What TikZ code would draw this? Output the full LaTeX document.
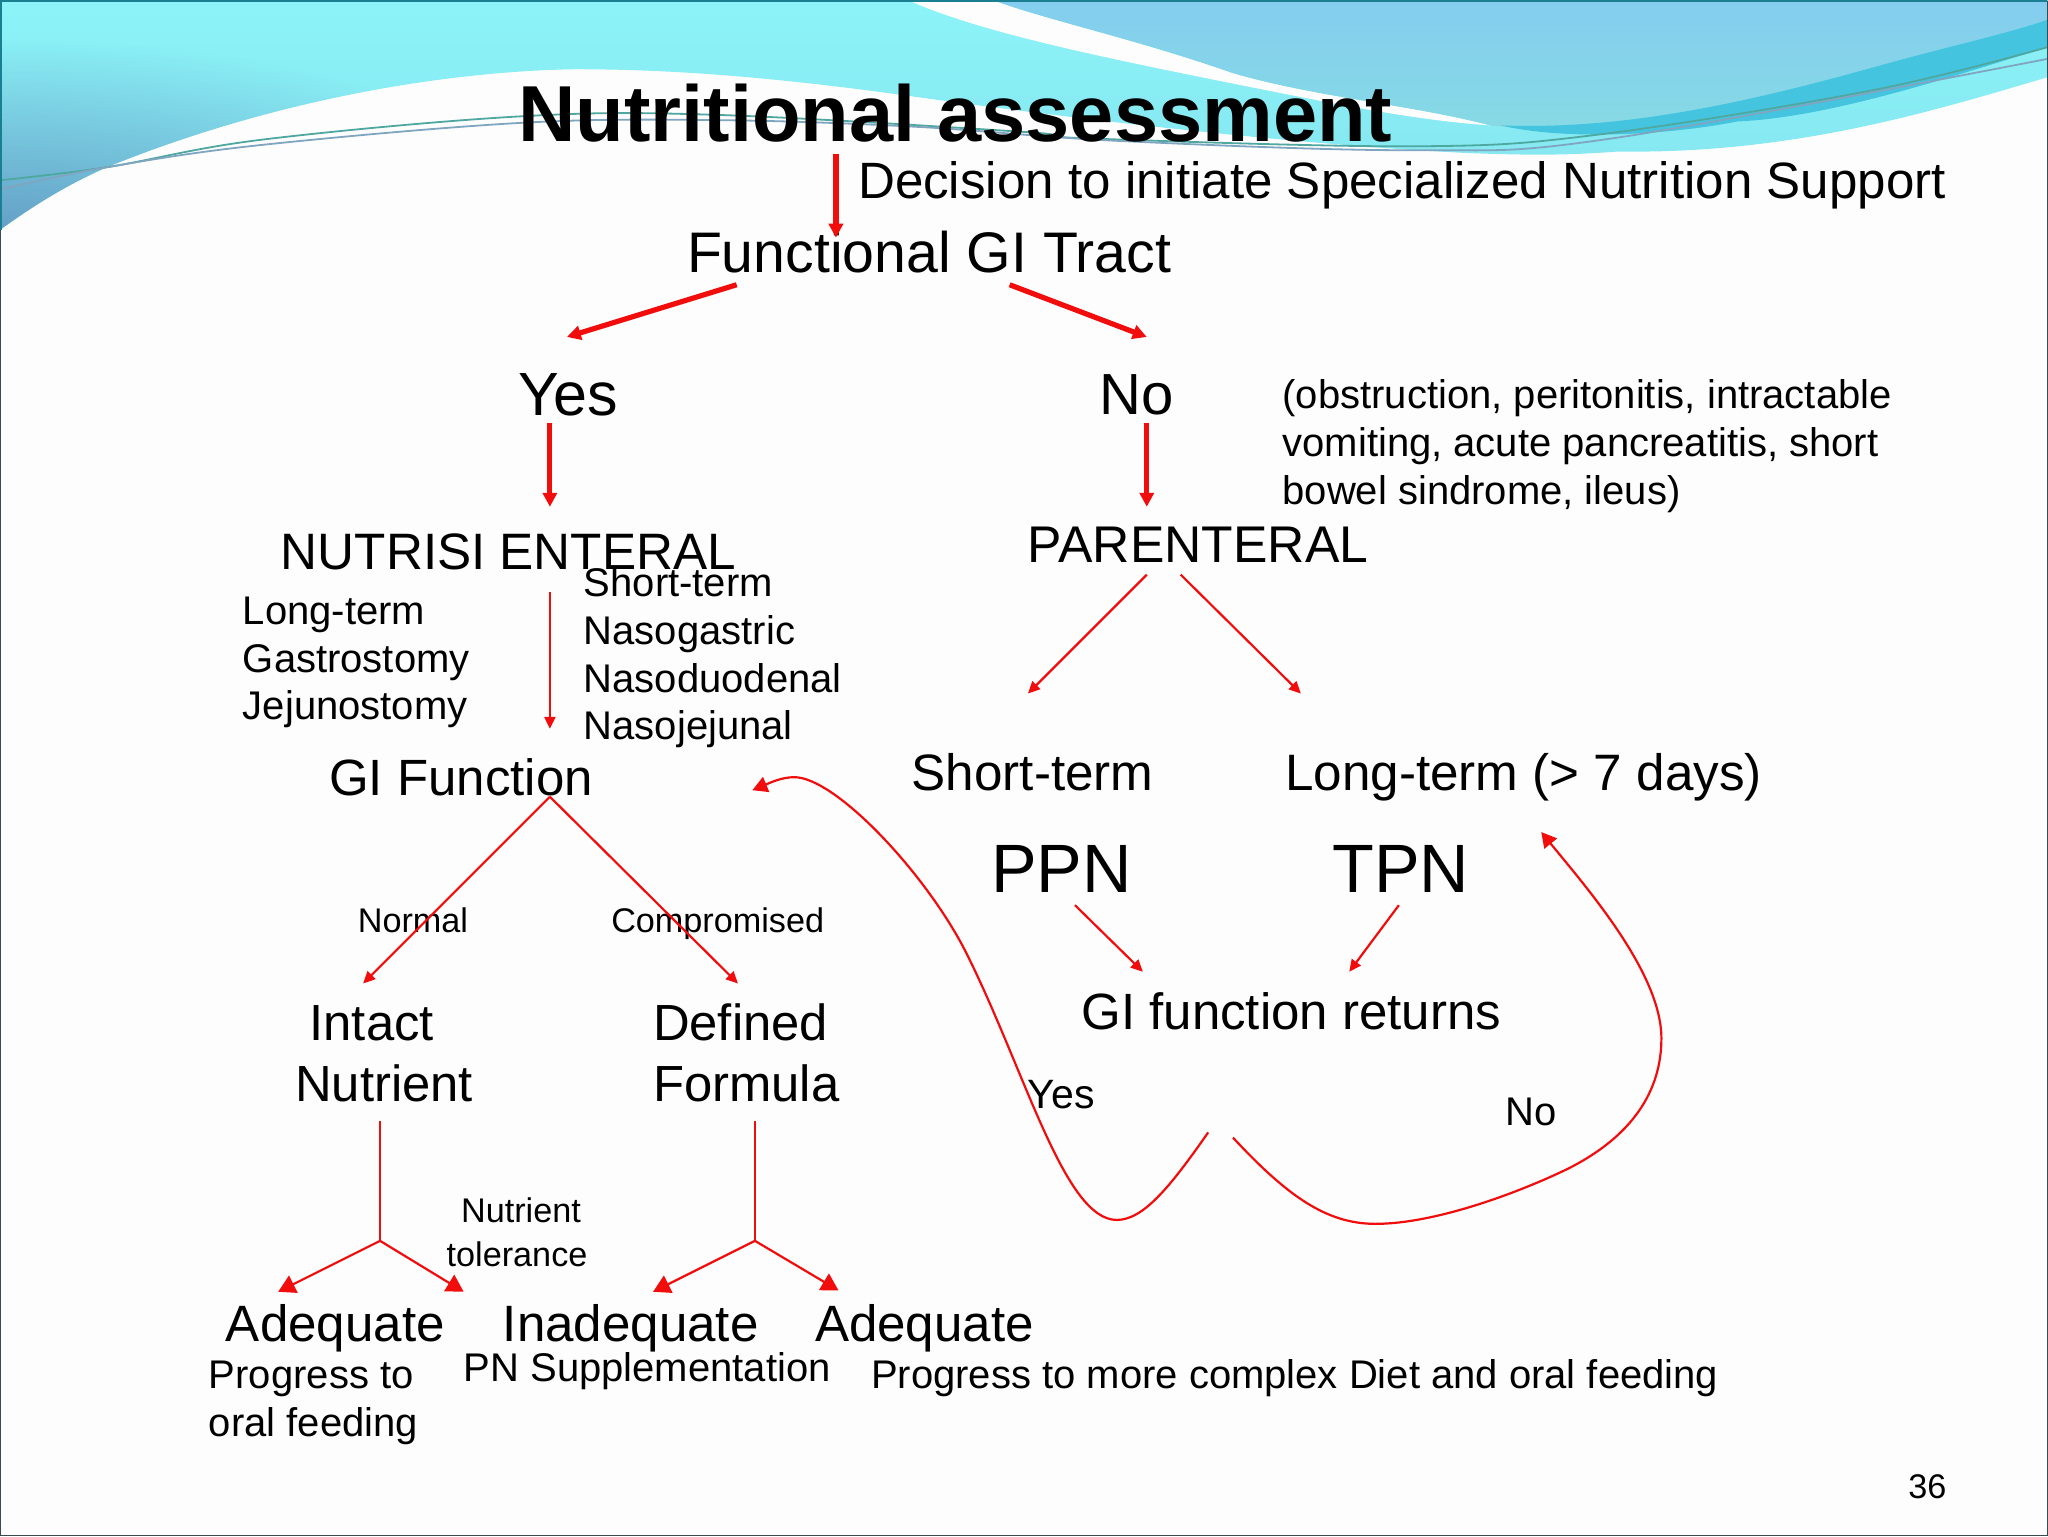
\documentclass[tikz,border=0pt]{standalone}
\usepackage{fontspec}
\setmainfont{Liberation Sans}
\usetikzlibrary{arrows.meta,fadings}
\definecolor{arrowred}{HTML}{F20D0D}
\definecolor{paper}{HTML}{FEFDFE}
\definecolor{cyanTop}{HTML}{8CF4F8}
\definecolor{cyanBot}{HTML}{84E2EE}
\definecolor{leftDark}{HTML}{5F95C0}
\definecolor{blueTop}{HTML}{84CDEF}
\definecolor{blueBot}{HTML}{86DAE4}
\definecolor{ribbon}{HTML}{45C4E0}
\definecolor{frameC}{HTML}{1B7F92}
\definecolor{frameD}{HTML}{3A4A50}
\definecolor{swA}{HTML}{4FA8A0}
\definecolor{swB}{HTML}{7FA6C0}
\tikzfading[name=cornerfade,inner color=transparent!15,outer color=transparent!100]
\tikzset{
  x=0.65306pt,y=-0.65306pt,
  lab/.style={anchor=base west,inner sep=0pt,outer sep=0pt,text=black},
  heavy/.style={draw=arrowred,line width=2.6pt,-{Triangle[length=7pt,width=7pt]}},
  light/.style={draw=arrowred,line width=1.1pt,-{Triangle[length=6pt,width=5.5pt]}},
  stem/.style={draw=arrowred,line width=1.1pt},
  fork/.style={draw=arrowred,line width=1.1pt,-{Triangle[length=8.5pt,width=9.5pt]}},
  curved/.style={draw=arrowred,line width=1.1pt,-{Triangle[length=7.5pt,width=8pt]}},
  swoosh/.style={line width=0.9pt,smooth,tension=0.6},
}
\newcommand{\fsz}[1]{\fontsize{#1}{#1}\selectfont}
\newcommand{\cyanpath}{(0,0) -- (1568,0) -- (1568,59) .. controls (1480,85) and (1374,118) .. (1239,116)
  .. controls (1200,119) and (1169,119) .. (1120,117) .. controls (980,110) and (800,88) .. (700,74)
  .. controls (600,60) and (520,53) .. (440,53) .. controls (330,55) and (200,80) .. (82,128)
  .. controls (50,142) and (25,158) .. (0,176) -- cycle}
\begin{document}
\begin{tikzpicture}
\useasboundingbox (0,0) rectangle (1568,1176);
% background
\fill[paper] (0,0) rectangle (1568,1176);
\shade[top color=cyanTop,bottom color=cyanBot] \cyanpath;
\begin{scope}
  \clip \cyanpath;
  \fill[leftDark,path fading=cornerfade] (-420,30) rectangle (420,322);
\end{scope}
% white band
\fill[paper] (695,0) .. controls (750,25) and (850,45) .. (944,64)
  .. controls (1010,77) and (1080,92) .. (1141,96)
  .. controls (1080,80) and (1010,75) .. (944,56) .. controls (870,30) and (800,15) .. (760,0) -- cycle;
% blue area
\shade[top color=blueTop,bottom color=blueBot]
  (760,0) -- (1568,0) -- (1568,15) .. controls (1480,65) and (1360,95) .. (1214,100)
  .. controls (1190,100) and (1160,98) .. (1141,96)
  .. controls (1080,80) and (1010,75) .. (944,56) .. controls (870,30) and (800,15) .. (760,0) -- cycle;
% ribbon
\fill[ribbon] (1149,96) .. controls (1250,100) and (1350,75) .. (1440,50)
  .. controls (1490,36) and (1540,25) .. (1568,15) -- (1568,36)
  .. controls (1490,60) and (1400,90) .. (1330,93) .. controls (1280,103) and (1200,108) .. (1149,96) -- cycle;
% swooshes
\draw[swA,swoosh] plot coordinates {(0,138) (82,128) (200,107) (400,89) (550,88) (784,101) (834,106) (1084,112) (1224,103) (1434,69) (1568,36)};
\draw[swB,swoosh] plot coordinates {(0,145) (82,128) (200,111) (400,94) (550,92) (700,97) (859,108) (1084,115) (1234,106) (1568,45)};
% frame
\draw[frameC,line width=1pt] (0.5,176) -- (0.5,0.5) -- (1567.5,0.5);
\draw[frameD,line width=0.8pt] (0.4,176) -- (0.4,1175.6) -- (1567.6,1175.6) -- (1567.6,0.5);

% text
\node[lab,font=\bfseries\fsz{39.7}] (title) at (397,108) {Nutritional assessment};
\node[lab,font=\fsz{25.55}] (decision) at (657,152) {Decision to initiate Specialized Nutrition Support};
\node[lab,font=\fsz{28.6}] (gitract) at (526,209) {Functional GI Tract};
\node[lab,font=\fsz{30.5}] (yes) at (397,318) {Yes};
\node[lab,font=\fsz{29}] (no) at (842,317) {No};
\node[lab,font=\fsz{20}] (obs1) at (982,313) {(obstruction, peritonitis, intractable};
\node[lab,font=\fsz{20}] (obs2) at (982,349.5) {vomiting, acute pancreatitis, short};
\node[lab,font=\fsz{20}] (obs3) at (982,386) {bowel sindrome, ileus)};
\node[lab,font=\fsz{25.6}] (enteral) at (215,436) {NUTRISI ENTERAL};
\node[lab,font=\fsz{25.8}] (parenteral) at (787,431) {PARENTERAL};
\node[lab,font=\fsz{20}] (st1) at (447,457) {Short-term};
\node[lab,font=\fsz{20}] (st2) at (447,493.5) {Nasogastric};
\node[lab,font=\fsz{20}] (st3) at (447,530) {Nasoduodenal};
\node[lab,font=\fsz{20}] (st4) at (447,566) {Nasojejunal};
\node[lab,font=\fsz{20}] (lt1) at (186,478) {Long-term};
\node[lab,font=\fsz{20}] (lt2) at (186,515) {Gastrostomy};
\node[lab,font=\fsz{20}] (lt3) at (186,551) {Jejunostomy};
\node[lab,font=\fsz{25.5}] (gifn) at (252,609) {GI Function};
\node[lab,font=\fsz{25.6}] (short) at (698,605) {Short-term};
\node[lab,font=\fsz{25.6}] (long) at (984,605) {Long-term (> 7 days)};
\node[lab,font=\fsz{34.2}] (ppn) at (759,683) {PPN};
\node[lab,font=\fsz{34.2}] (tpn) at (1020,683) {TPN};
\node[lab,font=\fsz{17.1}] (normal) at (274,714) {Normal};
\node[lab,font=\fsz{17.1}] (comp) at (468,714) {Compromised};
\node[lab,font=\fsz{25.4}] (intact) at (237,797) {Intact};
\node[lab,font=\fsz{25.4}] (nutr) at (226,843) {Nutrient};
\node[lab,font=\fsz{25.4}] (defd) at (500,797) {Defined};
\node[lab,font=\fsz{25.4}] (form) at (500,843) {Formula};
\node[lab,font=\fsz{25.5}] (returns) at (828,788) {GI function returns};
\node[lab,font=\fsz{20.5}] (yes2) at (787,849) {Yes};
\node[lab,font=\fsz{20}] (no2) at (1153,862) {No};
\node[lab,font=\fsz{17.1}] (nt1) at (353,936) {Nutrient};
\node[lab,font=\fsz{17.1}] (nt2) at (342,970) {tolerance};
\node[lab,font=\fsz{25.55}] (adq1) at (173,1027) {Adequate};
\node[lab,font=\fsz{25.55}] (inadq) at (385,1027) {Inadequate};
\node[lab,font=\fsz{25.55}] (adq2) at (624,1027) {Adequate};
\node[lab,font=\fsz{20}] (pr1) at (160,1063) {Progress to};
\node[lab,font=\fsz{20}] (pr2) at (160,1100) {oral feeding};
\node[lab,font=\fsz{20}] (pns) at (355,1058) {PN Supplementation};
\node[lab,font=\fsz{20}] (prm) at (667,1063) {Progress to more complex Diet and oral feeding};
\node[lab,font=\fsz{17.1}] (pg) at (1461,1147) {36};

% connector ends
\coordinate (a1s) at (640,118); \coordinate (a1e) at (640,182);
\coordinate (a2s) at (564,218); \coordinate (a2e) at (434,258);
\coordinate (a3s) at (773,218); \coordinate (a3e) at (878,258);
\coordinate (a4s) at (421,324); \coordinate (a4e) at (421,388);
\coordinate (a5s) at (878,324); \coordinate (a5e) at (878,388);
\coordinate (a6s) at (421,453); \coordinate (a6e) at (421,558);
\coordinate (a7s) at (878,440); \coordinate (a7e) at (787,531);
\coordinate (a8s) at (904,440); \coordinate (a8e) at (996,531);
\coordinate (a9s) at (421,610); \coordinate (a9e) at (278,753); \coordinate (a10e) at (565,753);
\coordinate (a11s) at (823,693); \coordinate (a11e) at (875,744);
\coordinate (a12s) at (1071,693); \coordinate (a12e) at (1033,744);
\coordinate (f1s) at (291,858); \coordinate (f1m) at (291,950); \coordinate (f1a) at (213,989); \coordinate (f1b) at (355,989);
\coordinate (f2s) at (578,858); \coordinate (f2m) at (578,950); \coordinate (f2a) at (500,989); \coordinate (f2b) at (642,988);
\coordinate (cys) at (925,867); \coordinate (cye) at (576,605);
\coordinate (cns) at (944,871); \coordinate (cne) at (1180,637);

\draw[heavy] (a1s) -- (a1e);
\draw[heavy] (a2s) -- (a2e);
\draw[heavy] (a3s) -- (a3e);
\draw[heavy] (a4s) -- (a4e);
\draw[heavy] (a5s) -- (a5e);
\draw[light] (a6s) -- (a6e);
\draw[light] (a7s) -- (a7e);
\draw[light] (a8s) -- (a8e);
\draw[light] (a9s) -- (a9e);
\draw[light] (a9s) -- (a10e);
\draw[light] (a11s) -- (a11e);
\draw[light] (a12s) -- (a12e);
\draw[stem] (f1s) -- (f1m);
\draw[fork] (f1m) -- (f1a);
\draw[fork] (f1m) -- (f1b);
\draw[stem] (f2s) -- (f2m);
\draw[fork] (f2m) -- (f2a);
\draw[fork] (f2m) -- (f2b);
\draw[curved] (cys) .. controls (895,910) and (875,934) .. (855,934)
  .. controls (815,934) and (785,820) .. (740,730)
  .. controls (710,670) and (640,595) .. (608,595)
  .. controls (598,595) and (588,600) .. (cye);
\draw[curved] (cns) .. controls (985,915) and (1015,937) .. (1053,937)
  .. controls (1100,937) and (1165,912) .. (1200,895)
  .. controls (1250,870) and (1272,835) .. (1272,795)
  .. controls (1272,745) and (1215,680) .. (cne);
\end{tikzpicture}
\end{document}
